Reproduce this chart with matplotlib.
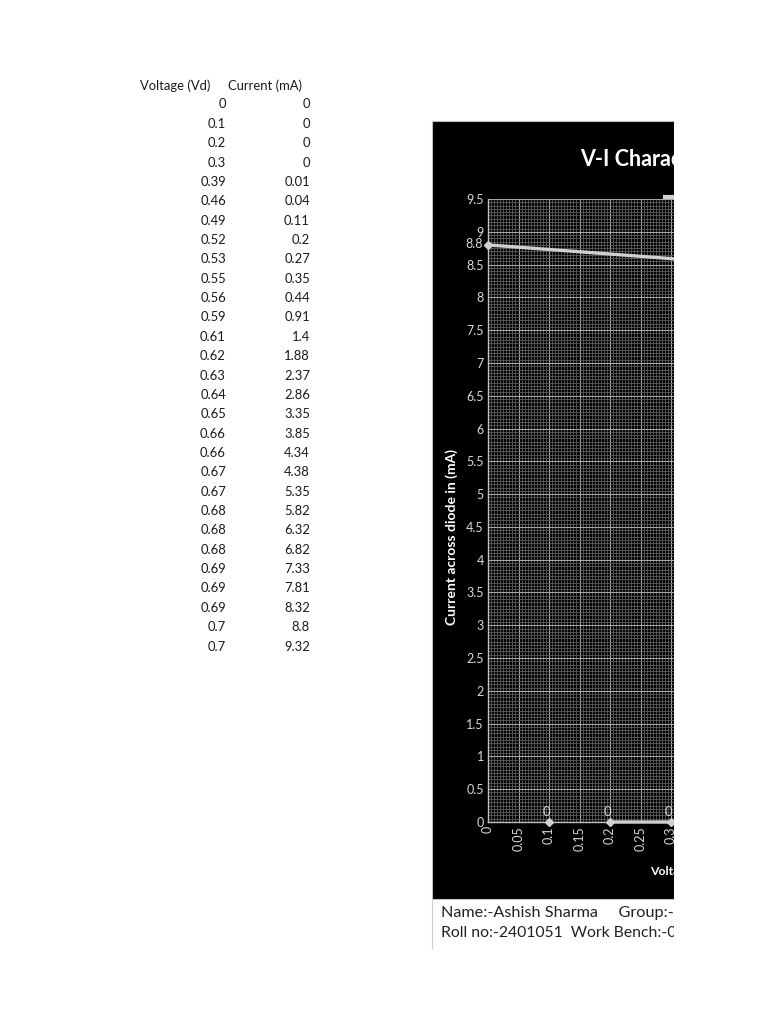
import matplotlib
matplotlib.use("Agg")
import matplotlib.pyplot as plt
import numpy as np
from matplotlib.patches import Rectangle
from matplotlib.lines import Line2D
from matplotlib.ticker import MultipleLocator

plt.rcParams['font.family'] = ['Lato', 'DejaVu Sans']

# ---- data (spreadsheet table) ----
table_headers = ["Voltage (Vd)", "Current (mA)"]
voltage_vd = [0, 0.1, 0.2, 0.3, 0.39, 0.46, 0.49, 0.52, 0.53, 0.55, 0.56, 0.59, 0.61,
              0.62, 0.63, 0.64, 0.65, 0.66, 0.66, 0.67, 0.67, 0.68, 0.68, 0.68, 0.69,
              0.69, 0.69, 0.7, 0.7]
current_ma = [0, 0, 0, 0, 0.01, 0.04, 0.11, 0.2, 0.27, 0.35, 0.44, 0.91, 1.4, 1.88,
              2.37, 2.86, 3.35, 3.85, 4.34, 4.38, 5.35, 5.82, 6.32, 6.82, 7.33, 7.81,
              8.32, 8.8, 9.32]

# ---- data as plotted in the chart ----
# isolated first marker, then the connected series (last point plotted at Vd = 0)
chart_isolated_v = [0.1]
chart_isolated_i = [0]
chart_line_v = [0.2, 0.3, 0.39, 0.46, 0.49, 0.52, 0.53, 0.55, 0.56, 0.59, 0.61, 0.62,
                0.63, 0.64, 0.65, 0.66, 0.66, 0.67, 0.67, 0.68, 0.68, 0.68, 0.69, 0.69,
                0.69, 0.0]
chart_line_i = [0, 0, 0.01, 0.04, 0.11, 0.2, 0.27, 0.35, 0.44, 0.91, 1.4, 1.88, 2.37,
                2.86, 3.35, 3.85, 4.34, 4.38, 5.35, 5.82, 6.32, 6.82, 7.33, 7.81, 8.32,
                8.8]
chart_title = "V-I Characteristics of Diode"
x_label = "Voltage across diode in (V)"
y_label = "Current across diode in (mA)"
x_ticks = [0, 0.05, 0.1, 0.15, 0.2, 0.25, 0.3, 0.35, 0.4, 0.45]
y_ticks = [0, 0.5, 1, 1.5, 2, 2.5, 3, 3.5, 4, 4.5, 5, 5.5, 6, 6.5, 7, 7.5, 8, 8.5, 9, 9.5]
footer_lines = ["Name:-Ashish Sharma     Group:-", "Roll no:-2401051  Work Bench:-0"]

W, H = 768, 1024
fig = plt.figure(figsize=(W / 100, H / 100), dpi=100)
fig.patch.set_facecolor("white")


def fx(x):
    return x / W


def fy(y):
    return 1 - y / H


# ---- spreadsheet table ----
txt_color = "#1a1a1a"
fs_tab = 9.4
fig.text(fx(140), fy(86), table_headers[0], ha="left", va="center", fontsize=fs_tab, color=txt_color)
fig.text(fx(228), fy(86), table_headers[1], ha="left", va="center", fontsize=fs_tab, color=txt_color)
row0, dy = 104.5, 19.36
for i, (v, c) in enumerate(zip(voltage_vd, current_ma)):
    y = row0 + i * dy
    fig.text(fx(226), fy(y), f"{v:g}", ha="right", va="center", fontsize=fs_tab, color=txt_color)
    fig.text(fx(310), fy(y), f"{c:g}", ha="right", va="center", fontsize=fs_tab, color=txt_color)

# ---- chart background ----
fig.add_artist(Rectangle((fx(432), fy(899)), fx(768) - fx(432), fy(121) - fy(899),
                         transform=fig.transFigure, facecolor="black",
                         edgecolor="#bfbfbf", linewidth=0.8, zorder=-5))

# plot area: x=0 at 488 px, 0.05 per 30.5 px ; y=0 at 822 px, 9.5 at 199 px
left_px, right_px = 488, 768
top_px, bot_px = 199, 822
ax = fig.add_axes([fx(left_px), fy(bot_px), fx(right_px) - fx(left_px), fy(top_px) - fy(bot_px)])
ax.set_facecolor("black")
ax.set_xlim(0, (right_px - left_px) / 610.0)
ax.set_ylim(0, 9.5)

ax.xaxis.set_major_locator(MultipleLocator(0.05))
ax.xaxis.set_minor_locator(MultipleLocator(0.005))
ax.yaxis.set_major_locator(MultipleLocator(0.5))
ax.yaxis.set_minor_locator(MultipleLocator(0.05))
ax.set_xticks(x_ticks)
ax.set_yticks(y_ticks)
ax.set_xticklabels([f"{t:g}" for t in x_ticks], rotation=90, color="#d9d9d9", fontsize=9)
ax.set_yticklabels([f"{t:g}" for t in y_ticks], color="#d9d9d9", fontsize=9)
ax.tick_params(which="both", length=0, pad=3)
ax.grid(which="minor", color="#5e5e5e", linewidth=0.6)
ax.grid(which="major", color="#a6a6a6", linewidth=0.8)
ax.set_axisbelow(True)
for s in ["top", "right"]:
    ax.spines[s].set_visible(False)
for s in ["left", "bottom"]:
    ax.spines[s].set_color("#bfbfbf")
    ax.spines[s].set_linewidth(1.0)

line_col = "#d0d0d0"
ax.plot(chart_line_v, chart_line_i, color=line_col, linewidth=2.4, marker="D",
        markersize=4, clip_on=False, zorder=5)
ax.plot(chart_isolated_v, chart_isolated_i, linestyle="none", color=line_col, marker="D",
        markersize=4, clip_on=False, zorder=5)

# data labels
for v, c in zip(chart_isolated_v + chart_line_v[:2], chart_isolated_i + chart_line_i[:2]):
    ax.annotate(f"{c:g}", (v, c), xytext=(-2, 7.5), textcoords="offset points",
                ha="center", va="center", color="#d9d9d9", fontsize=9.5)
ax.annotate(f"{chart_line_i[-1]:g}", (chart_line_v[-1], chart_line_i[-1]), xytext=(-4, 1),
            textcoords="offset points", ha="right", va="center", color="#d9d9d9",
            fontsize=9, annotation_clip=False)

# titles / labels
fig.text(fx(580), fy(160), chart_title, ha="left", va="center", fontsize=15.5,
         fontweight="bold", color="white")
fig.text(fx(452), fy(537), y_label, ha="center", va="center", rotation=90,
         fontsize=10, fontweight="bold", color="white")
fig.text(fx(650), fy(871), x_label, ha="left", va="center",
         fontsize=8.8, fontweight="bold", color="white")
# legend entry (cropped)
fig.add_artist(Line2D([fx(665), fx(690)], [fy(197), fy(197)], transform=fig.transFigure,
                      color=line_col, linewidth=3, zorder=10))

# footer text box
fig.add_artist(Line2D([fx(432), fx(432)], [fy(899), fy(948)], transform=fig.transFigure,
                      color="#d0d0d0", linewidth=0.8))
fig.text(fx(441), fy(913), footer_lines[0], ha="left", va="center", fontsize=11.7, color="#222222")
fig.text(fx(441), fy(933), footer_lines[1], ha="left", va="center", fontsize=11.3, color="#222222")

# page edge crop (chart runs off the page)
fig.add_artist(Rectangle((fx(674), 0), 1 - fx(674), 1, transform=fig.transFigure,
                         facecolor="white", edgecolor="none", zorder=100))

fig.savefig("out.png", dpi=100, facecolor="white")
